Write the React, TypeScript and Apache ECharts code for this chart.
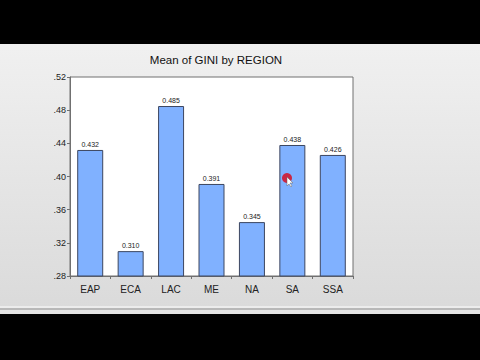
import React, { useEffect, useRef } from "react";
import * as echarts from "echarts";

const categories = ["EAP", "ECA", "LAC", "ME", "NA", "SA", "SSA"];
const meanGini = [0.432, 0.31, 0.485, 0.391, 0.345, 0.438, 0.426];
const yTicks = [0.28, 0.32, 0.36, 0.4, 0.44, 0.48, 0.52];

export default function App() {
  const ref = useRef<HTMLDivElement>(null);
  useEffect(() => {
    const chart = echarts.init(ref.current!, null, { renderer: "svg" });
    chart.setOption({
      animation: false,
      backgroundColor: {
        type: "linear",
        x: 0, y: 0, x2: 0, y2: 1,
        colorStops: [
          { offset: 0, color: "#f4f4f4" },
          { offset: 1, color: "#d6d6d6" },
        ],
      },
      title: {
        text: "Mean of GINI by REGION",
        left: 211,
        textAlign: "center",
        top: 49,
        textStyle: { fontFamily: "Liberation Sans, Arial", fontSize: 11.5, fontWeight: "normal", color: "#111" },
      },
      graphic: [
        { type: "rect", shape: { x: 0, y: 0, width: 480, height: 44 }, style: { fill: "#000" }, silent: true },
        { type: "rect", shape: { x: 0, y: 306, width: 480, height: 2 }, style: { fill: "#ececec" }, silent: true },
        { type: "rect", shape: { x: 0, y: 308, width: 480, height: 2 }, style: { fill: "#b8b8b8" }, silent: true },
        { type: "rect", shape: { x: 0, y: 310, width: 480, height: 4 }, style: { fill: "#e4e4e4" }, silent: true },
        { type: "rect", shape: { x: 0, y: 314, width: 480, height: 46 }, style: { fill: "#000" }, silent: true },
        { type: "circle", shape: { cx: 287, cy: 178, r: 5 }, style: { fill: "#d01830", opacity: 0.9 }, silent: true, z: 100 },
        { type: "polygon", shape: { points: [[287, 177], [287, 186], [289, 184], [291, 187], [292, 186], [290, 183], [293, 183]] }, style: { fill: "#ffffff", stroke: "#666", lineWidth: 0.5 }, silent: true, z: 101 },
      ],
      grid: { left: 70, right: 127, top: 77, bottom: 84, show: true, backgroundColor: "#ffffff", borderColor: "#707070", borderWidth: 1 },
      xAxis: {
        type: "category",
        data: categories,
        axisLine: { show: true, lineStyle: { color: "#707070" } },
        axisTick: { show: true, alignWithLabel: false, length: 3, lineStyle: { color: "#707070" } },
        axisLabel: { color: "#222", fontSize: 10, fontFamily: "Liberation Sans, Arial", margin: 8 },
        splitLine: { show: false },
      },
      yAxis: {
        type: "value",
        min: yTicks[0],
        max: yTicks[yTicks.length - 1],
        interval: 0.04,
        axisLine: { show: true, lineStyle: { color: "#707070" } },
        axisTick: { show: true, length: 3, lineStyle: { color: "#707070" } },
        axisLabel: {
          color: "#222",
          fontSize: 9,
          fontFamily: "Liberation Sans, Arial",
          margin: 4,
          formatter: (v: number) => v.toFixed(2).replace(/^0/, ""),
        },
        splitLine: { show: false },
      },
      series: [
        {
          type: "bar",
          data: meanGini,
          barWidth: 26,
          itemStyle: { color: "#80b1ff", borderColor: "#3c4660", borderWidth: 1 },
          label: {
            show: true,
            position: "top",
            distance: 2,
            fontSize: 7,
            color: "#222",
            fontFamily: "Liberation Sans, Arial",
            formatter: (p: any) => p.value.toFixed(3),
          },
        },
      ],
    });
    return () => chart.dispose();
  }, []);
  return <div ref={ref} style={{ position: "absolute", left: 0, top: 0, width: 480, height: 360 }} />;
}
